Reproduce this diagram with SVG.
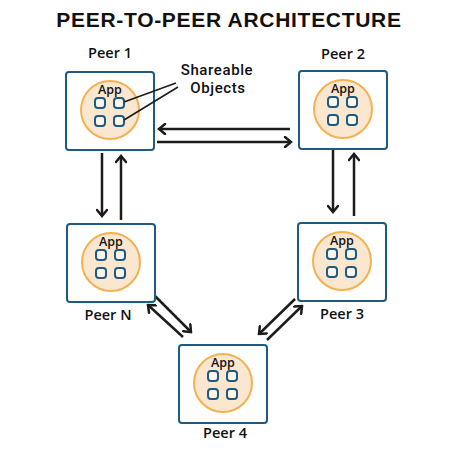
<svg xmlns="http://www.w3.org/2000/svg" width="474" height="452" viewBox="0 0 474 452">
<defs>
<style>
.title{font-family:"Liberation Sans",Arial,sans-serif;font-weight:bold;font-size:21px;letter-spacing:0.7px;fill:#111;}
.lbl{font-family:"Open Sans","Liberation Sans",sans-serif;font-weight:600;font-size:14.5px;fill:#111;}
.sh{font-family:Roboto,"Liberation Sans",sans-serif;font-weight:500;font-size:15px;letter-spacing:0.6px;fill:#111;}
.app{font-family:"Open Sans","Liberation Sans",sans-serif;font-weight:600;font-size:12.5px;fill:#111;}
.box{fill:#fff;stroke:#1f5a80;stroke-width:2;}
.disc{fill:#fbe6cf;stroke:#f3b24f;stroke-width:2;}
.obj{fill:#fff5ea;stroke:#1f5a80;stroke-width:2;}
.arr{stroke:#1c1c1c;stroke-width:2.5;fill:none;marker-end:url(#head);}
.ptr{stroke:#1c1c1c;stroke-width:1.6;fill:none;}
</style>
<marker id="head" markerUnits="userSpaceOnUse" viewBox="-10 -6 12 12" refX="0" refY="0" markerWidth="12" markerHeight="12" orient="auto">
<path d="M-6,-5 L0,0 L-6,5" fill="none" stroke="#1c1c1c" stroke-width="2.5" stroke-linecap="round" stroke-linejoin="miter"/>
</marker>
<g id="peerbody">
<rect class="box" x="0" y="0" width="88" height="78" rx="3"/>
<circle class="disc" cx="44" cy="38" r="29"/>
<text class="app" x="44" y="22" text-anchor="middle">App</text>
<rect class="obj" x="29" y="26" width="10" height="10" rx="3"/>
<rect class="obj" x="48" y="26" width="10" height="10" rx="3"/>
<rect class="obj" x="29" y="44" width="10" height="10" rx="3"/>
<rect class="obj" x="48" y="44" width="10" height="10" rx="3"/>
</g>
</defs>
<rect width="474" height="452" fill="#fff"/>
<text class="title" x="229" y="27" text-anchor="middle">PEER-TO-PEER ARCHITECTURE</text>

<g id="connectors">
<line class="arr" x1="290" y1="129" x2="159" y2="129"/>
<line class="arr" x1="157" y1="142" x2="291" y2="142"/>
<line class="arr" x1="102" y1="153" x2="102" y2="216"/>
<line class="arr" x1="121" y1="220" x2="121" y2="156"/>
<line class="arr" x1="333" y1="149" x2="333" y2="212"/>
<line class="arr" x1="354" y1="216" x2="354" y2="154"/>
<line class="arr" x1="183" y1="337" x2="148" y2="305"/>
<line class="arr" x1="155" y1="296" x2="191" y2="332"/>
<line class="arr" x1="295" y1="299" x2="259" y2="334"/>
<line class="arr" x1="267" y1="340" x2="302" y2="306"/>
</g>

<g id="peer1">
<text class="lbl" x="110" y="58" text-anchor="middle">Peer 1</text>
<use href="#peerbody" x="66" y="72"/>
</g>
<g id="peer2">
<text class="lbl" x="343" y="59" text-anchor="middle">Peer 2</text>
<use href="#peerbody" x="299" y="71"/>
</g>
<g id="peerN">
<use href="#peerbody" x="67" y="224"/>
<text class="lbl" x="108" y="320" text-anchor="middle">Peer N</text>
</g>
<g id="peer3">
<use href="#peerbody" x="298" y="223"/>
<text class="lbl" x="342" y="319" text-anchor="middle">Peer 3</text>
</g>
<g id="peer4">
<use href="#peerbody" x="179" y="345"/>
<text class="lbl" x="225" y="438" text-anchor="middle">Peer 4</text>
</g>
<g id="shareable">
<text class="sh" x="217" y="75" text-anchor="middle">Shareable</text>
<text class="sh" x="218" y="93" text-anchor="middle">Objects</text>
<line class="ptr" x1="176" y1="83" x2="124" y2="102"/>
<line class="ptr" x1="178" y1="87" x2="124" y2="120"/>
</g>
</svg>
